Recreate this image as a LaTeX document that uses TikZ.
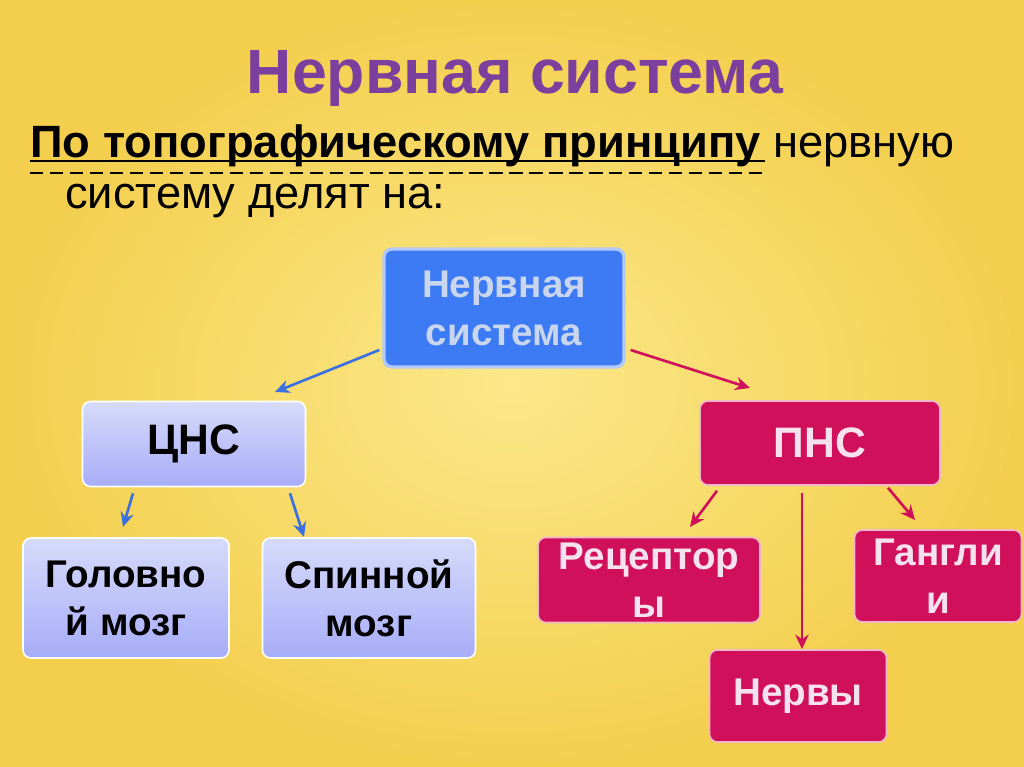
\documentclass[tikz,border=0pt]{standalone}
\usepackage{fontspec}
\setmainfont{Liberation Sans}
\usetikzlibrary{positioning,arrows.meta}
\definecolor{bgyel}{HTML}{F4CF4E}
\definecolor{bglight}{HTML}{FBE88A}
\definecolor{titlepurple}{HTML}{7B3F9E}
\definecolor{topblue}{HTML}{3C7BF4}
\definecolor{toptext}{HTML}{C9D6EE}
\definecolor{lavender}{HTML}{C5CBF7}
\definecolor{crimson}{HTML}{D0105A}
\definecolor{pinktext}{HTML}{F6E2EE}
\definecolor{bluearrow}{HTML}{3C6FE0}
\definecolor{redarrow}{HTML}{D0105A}

\tikzset{
  box/.style={rounded corners=6pt, align=center, font=\fontsize{29}{36}\selectfont\bfseries, inner sep=0pt},
  cnsbox/.style={box, draw=white, line width=1.2pt, top color=white!30!lavender, bottom color=lavender!85!blue, text=black},
  pnsbox/.style={box, draw=white!70!crimson, line width=1.2pt, fill=crimson, text=pinktext},
  bluearr/.style={-{Stealth[length=11pt,width=10pt]}, bluearrow, line width=2pt},
  redarr/.style={-{Stealth[length=11pt,width=10pt]}, redarrow, line width=2pt}
}

\begin{document}
\begin{tikzpicture}[x=0.0264cm,y=-0.0264cm]
\shade[inner color=bglight, outer color=bgyel] (0,0) rectangle (1024,767);
\useasboundingbox (0,0) rectangle (1024,767);

% title and text
\node[font=\fontsize{47}{54}\selectfont\bfseries, text=titlepurple] (title) at (515,78) {Нервная система};
\node[font=\fontsize{34}{40}\selectfont, anchor=west, inner sep=0pt] (line1) at (30,146) {\textbf{По топографическому принципу} нервную};
\node[font=\fontsize{34}{40}\selectfont, anchor=west, inner sep=0pt] (line2) at (65,201) {систему делят на:};
\draw[line width=1.5pt] (30,161) -- (765,161);
\draw[line width=1.5pt, dash pattern=on 10pt off 5pt] (30,173) -- (765,173);

% boxes
\node[box, draw=white!60!topblue, line width=2.5pt, fill=topblue, text=toptext, minimum width=240*0.0264cm, minimum height=118*0.0264cm] (ns) at (504,308) {Нервная\\система};
\node[cnsbox, minimum width=223*0.0264cm, minimum height=85*0.0264cm, font=\fontsize{32}{36}\selectfont\bfseries] (cns) at (194,444) {ЦНС};
\node[cnsbox, minimum width=206*0.0264cm, minimum height=120*0.0264cm] (brain) at (126,598) {Головно\\й мозг};
\node[cnsbox, minimum width=213*0.0264cm, minimum height=120*0.0264cm] (spine) at (369,598) {Спинной\\мозг};
\node[pnsbox, minimum width=240*0.0264cm, minimum height=84*0.0264cm, font=\fontsize{32}{36}\selectfont\bfseries] (pns) at (820,443) {ПНС};
\node[pnsbox, minimum width=222*0.0264cm, minimum height=85*0.0264cm] (recep) at (649,580) {Рецептор\\ы};
\node[pnsbox, minimum width=167*0.0264cm, minimum height=92*0.0264cm] (gang) at (938,576) {Гангли\\и};
\node[pnsbox, minimum width=177*0.0264cm, minimum height=92*0.0264cm] (nerves) at (798,696) {Нервы};

% arrows
\draw[bluearr] (ns.west |- 0,350) ++(-3,0) -- (275,392);
\draw[redarr] (ns.east |- 0,350) ++(5,0) -- (750,388);
\draw[bluearr] (cns.south -| 133,0) ++(0,6) -- (123,527);
\draw[bluearr] (cns.south -| 290,0) ++(0,6) -- (304,537);
\draw[redarr] (pns.south -| 717,0) ++(0,5) -- (690,527);
\draw[redarr] (pns.south -| 802,0) ++(0,7) -- (nerves.north -| 802,0);
\draw[redarr] (pns.south -| 888,0) ++(0,2) -- (915,520);
\end{tikzpicture}
\end{document}
